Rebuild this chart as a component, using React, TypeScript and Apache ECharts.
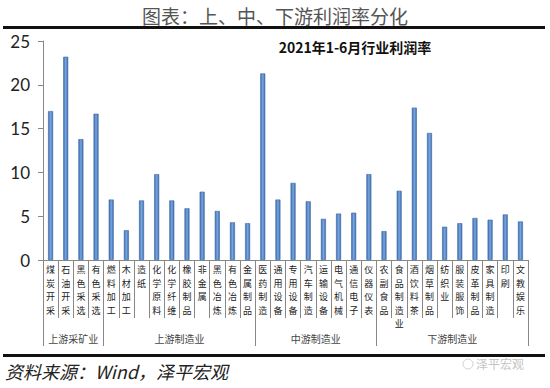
import React, { useEffect, useRef } from "react";
import * as echarts from "echarts";

const categories = [
  "煤炭开采", "石油开采", "黑色采选", "有色采选",
  "燃料加工", "木材加工", "造纸", "化学原料", "化学纤维", "橡胶制品", "非金属", "黑色冶炼", "有色冶炼", "金属制品",
  "医药制造", "通用设备", "专用设备", "汽车制造", "运输设备", "电气机械", "通信电子", "仪器仪表",
  "农副食品", "食品制造业", "酒饮料茶", "烟草制品", "纺织业", "服装服饰", "皮革制品", "家具制造", "印刷", "文教娱乐",
];
const profitRate = [
  17.0, 23.2, 13.8, 16.7,
  6.9, 3.4, 6.8, 9.8, 6.8, 5.9, 7.8, 5.6, 4.3, 4.2,
  21.3, 6.9, 8.8, 6.7, 4.7, 5.3, 5.4, 9.8,
  3.3, 7.9, 17.4, 14.5, 3.8, 4.2, 4.8, 4.6, 5.2, 4.4,
];
const groupNames = ["上游采矿业", "上游制造业", "中游制造业", "下游制造业"];
const groupSizes = [4, 10, 8, 10];
const yTicks = [0, 5, 10, 15, 20, 25];

const boundaries: number[] = [0];
groupSizes.forEach((s) => boundaries.push(boundaries[boundaries.length - 1] + s));
const centers = groupSizes.map((s, i) => boundaries[i] + s / 2);

export default function App() {
  const ref = useRef<HTMLDivElement>(null);
  useEffect(() => {
    const chart = echarts.init(ref.current!, null, { renderer: "svg" });
    const cjk = "'Noto Sans CJK SC', sans-serif";
    chart.setOption({
      animation: false,
      backgroundColor: "#ffffff",
      title: [
        {
          text: "图表：上、中、下游利润率分化",
          left: "center",
          top: 1,
          textStyle: { fontFamily: cjk, fontSize: 19, fontWeight: "normal", color: "#555" },
        },
        {
          text: "2021年1-6月行业利润率",
          left: 350,
          textAlign: "center",
          top: 35,
          textStyle: { fontFamily: cjk, fontSize: 14, fontWeight: "bold", color: "#111" },
        },
      ],
      grid: { left: 43, right: 22, top: 41, bottom: 128, outerBoundsMode: "none" },
      xAxis: [
        {
          type: "category",
          data: categories,
          position: "bottom",
          axisLine: { lineStyle: { color: "#888", width: 1 } },
          axisTick: { show: true, interval: 0, length: 58, lineStyle: { color: "#888" } },
          axisLabel: {
            interval: 0,
            margin: 3,
            fontFamily: cjk,
            fontSize: 9,
            lineHeight: 13.5,
            color: "#222",
            verticalAlign: "top",
            formatter: (v: string) => v.split("").join("\n"),
          },
        },
        {
          type: "value",
          min: 0,
          max: categories.length,
          position: "bottom",
          axisLine: { show: false },
          splitLine: { show: false },
          axisTick: {
            show: true,
            customValues: boundaries,
            length: 86,
            lineStyle: { color: "#888" },
          },
          axisLabel: {
            customValues: centers,
            margin: 73,
            fontFamily: cjk,
            fontSize: 10,
            color: "#444",
            formatter: (v: number) => {
              const i = centers.indexOf(v);
              return i >= 0 ? groupNames[i] : "";
            },
          },
        },
      ],
      yAxis: {
        type: "value",
        min: 0,
        max: 25,
        interval: 5,
        axisLine: { show: true, lineStyle: { color: "#888" } },
        axisTick: { show: true, length: 5, lineStyle: { color: "#888" } },
        splitLine: { show: false },
        axisLabel: {
          margin: 13,
          fontFamily: "Lato, sans-serif",
          fontSize: 17,
          color: "#222",
          formatter: (v: number) => (yTicks.includes(v) ? String(v) : ""),
        },
      },
      series: [
        {
          type: "bar",
          xAxisIndex: 0,
          data: profitRate,
          barWidth: 5,
          itemStyle: {
            color: new echarts.graphic.LinearGradient(0, 0, 1, 0, [
              { offset: 0, color: "#3c6db0" },
              { offset: 0.5, color: "#7aa6de" },
              { offset: 1, color: "#3c6db0" },
            ]),
            borderColor: "#3a68a8",
            borderWidth: 0.6,
          },
        },
      ],
      graphic: [
        { type: "rect", shape: { x: 3, y: 26, width: 542, height: 3 }, style: { fill: "#111" } },
        { type: "rect", shape: { x: 3, y: 354, width: 542, height: 3 }, style: { fill: "#111" } },
        {
          type: "text",
          x: 5,
          y: 362,
          style: {
            text: "资料来源：Wind，泽平宏观",
            font: "italic 18px 'Noto Sans CJK SC', serif",
            fill: "#222",
          },
        },
        {
          type: "text",
          x: 476,
          y: 357,
          style: { text: "泽平宏观", font: "12px 'Noto Sans CJK SC'", fill: "#c4c4c4" },
        },
        {
          type: "circle",
          shape: { cx: 468, cy: 364, r: 5 },
          style: { fill: "none", stroke: "#cfcfcf", lineWidth: 1 },
        },
      ],
    });
    return () => chart.dispose();
  }, []);
  return <div ref={ref} style={{ width: 550, height: 388, position: "absolute", left: 0, top: 0 }} />;
}
